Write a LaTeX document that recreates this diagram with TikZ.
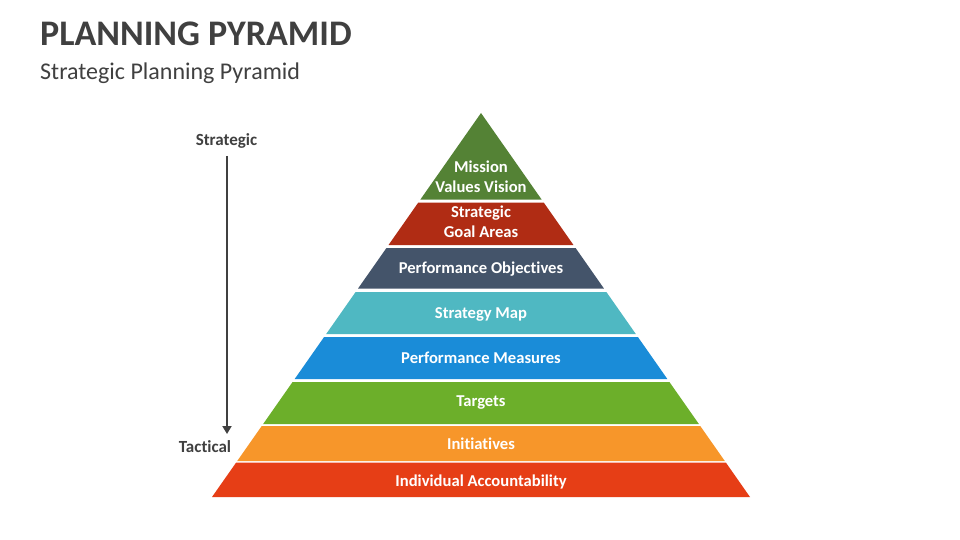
\documentclass[tikz,border=0pt]{standalone}
\usepackage{fontspec}
\setmainfont{Carlito}[Ligatures=NoCommon]
\usetikzlibrary{arrows.meta}
\definecolor{txtgray}{HTML}{404040}
\definecolor{cMission}{HTML}{548235}
\definecolor{cGoal}{HTML}{B02C14}
\definecolor{cObj}{HTML}{44546A}
\definecolor{cMap}{HTML}{4FB8C2}
\definecolor{cMeas}{HTML}{1A8CD8}
\definecolor{cTarg}{HTML}{6CAF2A}
\definecolor{cInit}{HTML}{F7962A}
\definecolor{cAcc}{HTML}{E63E16}
\newcommand\pyrlayer[3]{%
  \fill[#3] ({481-0.7005*(#1-113)},#1) -- ({481+0.7005*(#1-113)},#1)
    -- ({481+0.7005*(#2-113)},#2) -- ({481-0.7005*(#2-113)},#2) -- cycle;}
\begin{document}
\begin{tikzpicture}[x=1pt,y=-1pt,
  layertext/.style={text=white,font=\bfseries\fontsize{16.6}{20}\selectfont,align=center,inner sep=0pt},
  sidelabel/.style={text=txtgray,font=\bfseries\fontsize{17}{20}\selectfont,inner sep=0pt}]
\useasboundingbox[fill=white] (0,0) rectangle (960,540);
\node[anchor=base west,inner sep=0pt,text=txtgray,font=\bfseries\fontsize{36}{40}\selectfont] (title) at (40,46) {PLANNING PYRAMID};
\node[anchor=base west,inner sep=0pt,text=txtgray,font=\fontsize{24}{28}\selectfont] (subtitle) at (40,80) {Strategic Planning Pyramid};

\pyrlayer{113}{199.5}{cMission}
\pyrlayer{202.5}{245}{cGoal}
\pyrlayer{248}{288.5}{cObj}
\pyrlayer{292}{334}{cMap}
\pyrlayer{337}{379}{cMeas}
\pyrlayer{382}{424}{cTarg}
\pyrlayer{426}{461}{cInit}
\pyrlayer{462.5}{497}{cAcc}

\node[layertext] (mission) at (481,177) {Mission\\Values Vision};
\node[layertext] (goal) at (481,222) {Strategic\\Goal Areas};
\node[layertext] (obj) at (481,269) {Performance Objectives};
\node[layertext] (map) at (481,314) {Strategy Map};
\node[layertext] (meas) at (481,358) {Performance Measures};
\node[layertext] (targ) at (481,403) {Targets};
\node[layertext] (init) at (481,444) {Initiatives};
\node[layertext] (acc) at (481,482) {Individual Accountability};

\node[sidelabel] (strategic) at (226.5,141) {Strategic};
\node[sidelabel] (tactical) at (205,447) {Tactical};
\coordinate (arrtop) at (227,156);
\coordinate (arrtip) at (227,434);
\draw[txtgray,line width=1.8pt,-{Triangle[width=9pt,length=8pt]}] (arrtop) -- (arrtip);
\end{tikzpicture}
\end{document}
